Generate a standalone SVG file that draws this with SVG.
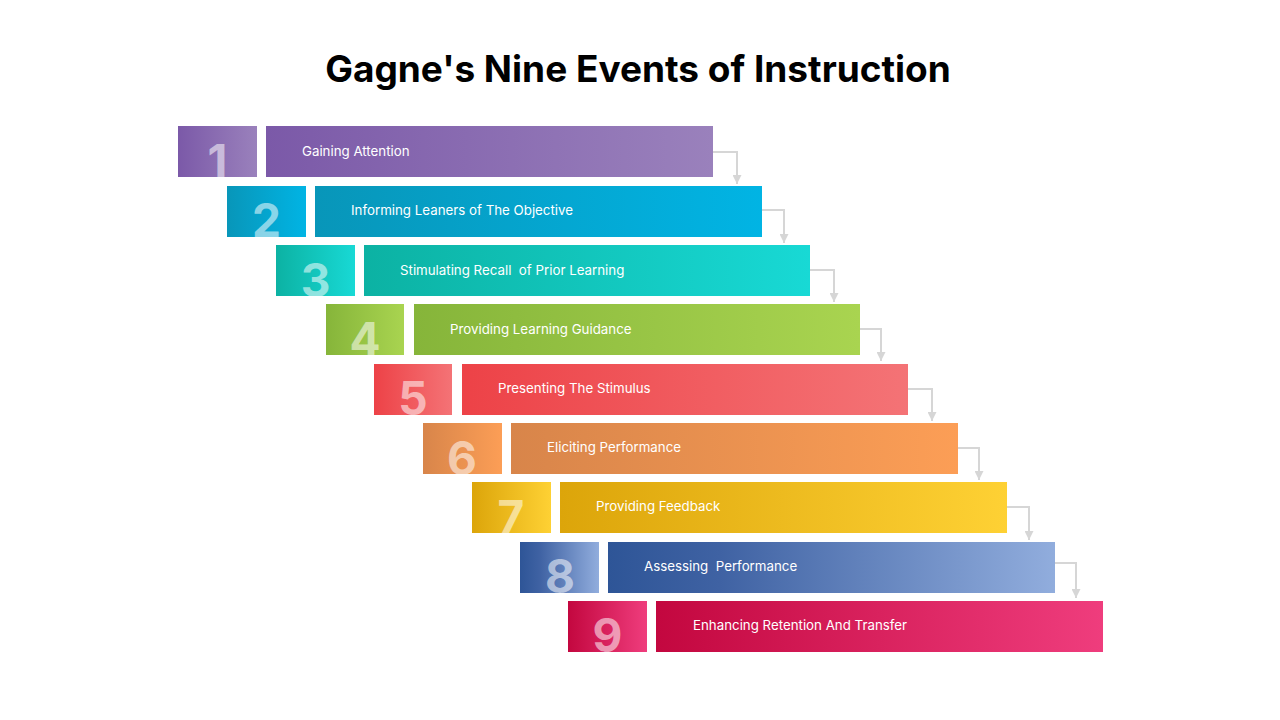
<svg xmlns="http://www.w3.org/2000/svg" width="1280" height="720" viewBox="0 0 1280 720">
<style>
.title{font-family:Inter,"Liberation Sans",sans-serif;font-weight:700;font-size:37px;fill:#000}
.lbl{font-family:Inter,"Noto Sans",sans-serif;font-size:13.3px;fill:#fff;white-space:pre}
.num{font-family:Inter,"Liberation Sans",sans-serif;font-weight:700;font-size:46px;fill:#fff;fill-opacity:0.55;text-anchor:middle}
.conn{fill:none;stroke:#d6d6d6;stroke-width:2}
</style>
<defs>
<marker id="ah" viewBox="0 0 10 10" refX="10" refY="5" markerWidth="9" markerHeight="9" markerUnits="userSpaceOnUse" orient="auto">
<path d="M0 0 L10 5 L0 10 Z" fill="#d6d6d6"/>
</marker>
<linearGradient id="g1"><stop offset="0" stop-color="#7b59a8"/><stop offset="1" stop-color="#9a81bc"/></linearGradient>
<linearGradient id="g2"><stop offset="0" stop-color="#0896b9"/><stop offset="1" stop-color="#01b4e4"/></linearGradient>
<linearGradient id="g3"><stop offset="0" stop-color="#0cb2a3"/><stop offset="1" stop-color="#18d9d5"/></linearGradient>
<linearGradient id="g4"><stop offset="0" stop-color="#86b53a"/><stop offset="1" stop-color="#a9d450"/></linearGradient>
<linearGradient id="g5"><stop offset="0" stop-color="#ed4247"/><stop offset="1" stop-color="#f47376"/></linearGradient>
<linearGradient id="g6"><stop offset="0" stop-color="#d8854a"/><stop offset="1" stop-color="#fc9e56"/></linearGradient>
<linearGradient id="g7"><stop offset="0" stop-color="#dca50a"/><stop offset="1" stop-color="#fed134"/></linearGradient>
<linearGradient id="g8"><stop offset="0" stop-color="#2e5597"/><stop offset="0.25" stop-color="#3f62a3"/><stop offset="1" stop-color="#91addd"/></linearGradient>
<linearGradient id="g9"><stop offset="0" stop-color="#c3073f"/><stop offset="1" stop-color="#ef3d7d"/></linearGradient>
<clipPath id="c1"><rect x="178" y="126" width="79" height="51"/></clipPath>
<clipPath id="c2"><rect x="227" y="186" width="79" height="51"/></clipPath>
<clipPath id="c3"><rect x="276" y="245" width="79" height="51"/></clipPath>
<clipPath id="c4"><rect x="326" y="304" width="79" height="51"/></clipPath>
<clipPath id="c5"><rect x="374" y="364" width="79" height="51"/></clipPath>
<clipPath id="c6"><rect x="423" y="423" width="79" height="51"/></clipPath>
<clipPath id="c7"><rect x="472" y="482" width="79" height="51"/></clipPath>
<clipPath id="c8"><rect x="520" y="542" width="79" height="51"/></clipPath>
<clipPath id="c9"><rect x="568" y="601" width="79" height="51"/></clipPath>
</defs>
<rect width="1280" height="720" fill="#fff"/>
<text class="title" x="638" y="82" text-anchor="middle">Gagne's Nine Events of Instruction</text>

<g id="connectors">
<path class="conn" d="M713 152 H737 V184" marker-end="url(#ah)"/>
<path class="conn" d="M762 210 H784 V243" marker-end="url(#ah)"/>
<path class="conn" d="M810 270 H834 V302" marker-end="url(#ah)"/>
<path class="conn" d="M860 329 H881 V361" marker-end="url(#ah)"/>
<path class="conn" d="M908 389 H932 V421" marker-end="url(#ah)"/>
<path class="conn" d="M958 448 H979 V480" marker-end="url(#ah)"/>
<path class="conn" d="M1007 507 H1029 V540" marker-end="url(#ah)"/>
<path class="conn" d="M1055 563 H1076 V598" marker-end="url(#ah)"/>
</g>

<g id="step1">
<rect x="178" y="126" width="79" height="51" fill="url(#g1)"/>
<text class="num" x="217.5" y="178" clip-path="url(#c1)">1</text>
<rect x="266" y="126" width="447" height="51" fill="url(#g1)"/>
<text class="lbl" x="302" y="156">Gaining Attention</text>
</g>
<g id="step2">
<rect x="227" y="186" width="79" height="51" fill="url(#g2)"/>
<text class="num" x="266.5" y="237" clip-path="url(#c2)">2</text>
<rect x="315" y="186" width="447" height="51" fill="url(#g2)"/>
<text class="lbl" x="351" y="215">Informing Leaners of The Objective</text>
</g>
<g id="step3">
<rect x="276" y="245" width="79" height="51" fill="url(#g3)"/>
<text class="num" x="315.5" y="297" clip-path="url(#c3)">3</text>
<rect x="364" y="245" width="446" height="51" fill="url(#g3)"/>
<text class="lbl" x="400" y="275">Stimulating Recall  of Prior Learning</text>
</g>
<g id="step4">
<rect x="326" y="304" width="78" height="51" fill="url(#g4)"/>
<text class="num" x="365" y="356" clip-path="url(#c4)">4</text>
<rect x="414" y="304" width="446" height="51" fill="url(#g4)"/>
<text class="lbl" x="450" y="334">Providing Learning Guidance</text>
</g>
<g id="step5">
<rect x="374" y="364" width="78" height="51" fill="url(#g5)"/>
<text class="num" x="413" y="415" clip-path="url(#c5)">5</text>
<rect x="462" y="364" width="446" height="51" fill="url(#g5)"/>
<text class="lbl" x="498" y="393">Presenting The Stimulus</text>
</g>
<g id="step6">
<rect x="423" y="423" width="79" height="51" fill="url(#g6)"/>
<text class="num" x="462" y="475" clip-path="url(#c6)">6</text>
<rect x="511" y="423" width="447" height="51" fill="url(#g6)"/>
<text class="lbl" x="547" y="452">Eliciting Performance</text>
</g>
<g id="step7">
<rect x="472" y="482" width="79" height="51" fill="url(#g7)"/>
<text class="num" x="511" y="534" clip-path="url(#c7)">7</text>
<rect x="560" y="482" width="447" height="51" fill="url(#g7)"/>
<text class="lbl" x="596" y="511">Providing Feedback</text>
</g>
<g id="step8">
<rect x="520" y="542" width="79" height="51" fill="url(#g8)"/>
<text class="num" x="560" y="593" clip-path="url(#c8)">8</text>
<rect x="608" y="542" width="447" height="51" fill="url(#g8)"/>
<text class="lbl" x="644" y="571">Assessing  Performance</text>
</g>
<g id="step9">
<rect x="568" y="601" width="79" height="51" fill="url(#g9)"/>
<text class="num" x="607.5" y="652" clip-path="url(#c9)">9</text>
<rect x="656" y="601" width="447" height="51" fill="url(#g9)"/>
<text class="lbl" x="693" y="630">Enhancing Retention And Transfer</text>
</g>
</svg>
